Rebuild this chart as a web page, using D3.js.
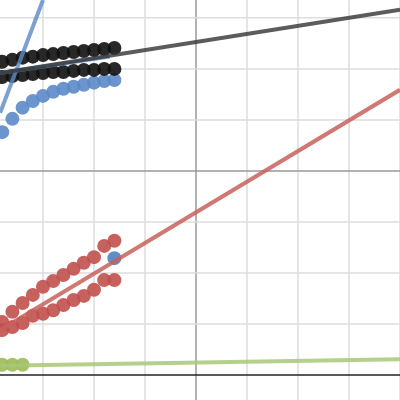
<!DOCTYPE html><html><head><script src="https://cdn.jsdelivr.net/npm/d3@7"></script>
<style>body{margin:0;background:#fff}</style></head><body><svg id="c" width="400" height="400"></svg><script>
const xs=[-3.8,-3.6,-3.4,-3.2,-3.0,-2.8,-2.6,-2.4,-2.2,-2.0,-1.8,-1.6];
const blackUpper=[6.14,6.18,6.22,6.24,6.27,6.29,6.31,6.33,6.35,6.37,6.39,6.41];
const blackLower=[5.84,5.86,5.88,5.90,5.92,5.94,5.94,5.96,5.98,5.98,6.00,6.00];
const blueCurve=[4.76,5.02,5.24,5.37,5.47,5.55,5.61,5.65,5.69,5.73,5.76,5.78];
const redUpper=[1.04,1.24,1.41,1.57,1.73,1.84,1.96,2.08,2.20,2.31,2.53,2.63];
const redLower=[0.88,0.94,1.02,1.16,1.20,1.27,1.37,1.47,1.55,1.67,1.86,1.86];
const greenX=[-3.8,-3.6,-3.4], greenY=[0.2,0.2,0.2];
const blueSingle=[[-1.6,2.29]];
const lines=[
 {c:"#5b8ac6",p:[[-3.84,5.14],[-3.0,7.35]]},
 {c:"#5b8ac6",p:[[-3.84,5.92],[-1.69,6.24]]},
 {c:"#333",p:[[-3.84,5.92],[4,7.16]]},
 {c:"#c8605c",p:[[-3.84,0.88],[4,5.59]]},
 {c:"#a8c878",p:[[-3.84,0.18],[4,0.31]]}];
const svg=d3.select("#c");
const x=d3.scaleLinear().domain([-4,4]).range([-8,400]);
const y=d3.scaleLinear().domain([-0.5,7.35]).range([400.5,0]);
const gx=d3.range(-4,4.01,1), gy=d3.range(0,7.1,1);
svg.selectAll(".vx").data(gx).join("line").attr("x1",d=>x(d)).attr("x2",d=>x(d)).attr("y1",0).attr("y2",400)
 .attr("stroke",d=>d===0?"#999":"#ddd").attr("stroke-width",d=>d===0?1.5:1.5);
svg.selectAll(".hy").data(gy).join("line").attr("y1",d=>y(d)).attr("y2",d=>y(d)).attr("x1",0).attr("x2",400)
 .attr("stroke",d=>d===0?"#222":d===4?"#999":"#ddd").attr("stroke-width",1.5);
svg.selectAll(".vx2").data([-3.5,-2.5,-1.5]).join("line");
const ln=d3.line().x(d=>x(d[0])).y(d=>y(d[1]));
function pts(xa,ya,c){svg.append("g").selectAll("circle").data(xa.map((v,i)=>[v,ya[i]])).join("circle")
 .attr("cx",d=>x(d[0])).attr("cy",d=>y(d[1])).attr("r",7).attr("fill",c).attr("fill-opacity",0.9);}
pts(xs,blueCurve,"#5b8ac6");
pts(xs,redUpper,"#c0504d");pts(xs,redLower,"#c0504d");
pts(greenX,greenY,"#9bbb59");
pts(blueSingle.map(d=>d[0]),blueSingle.map(d=>d[1]),"#4f81bd");
lines.slice(3).forEach(l=>svg.append("path").attr("d",ln(l.p)).attr("stroke",l.c).attr("stroke-width",4).attr("fill","none").attr("opacity",0.85));
pts(xs,blackLower,"#111");pts(xs,blackUpper,"#111");
lines.slice(0,3).forEach(l=>svg.append("path").attr("d",ln(l.p)).attr("stroke",l.c).attr("stroke-width",4).attr("fill","none").attr("opacity",0.8));
</script></body></html>
